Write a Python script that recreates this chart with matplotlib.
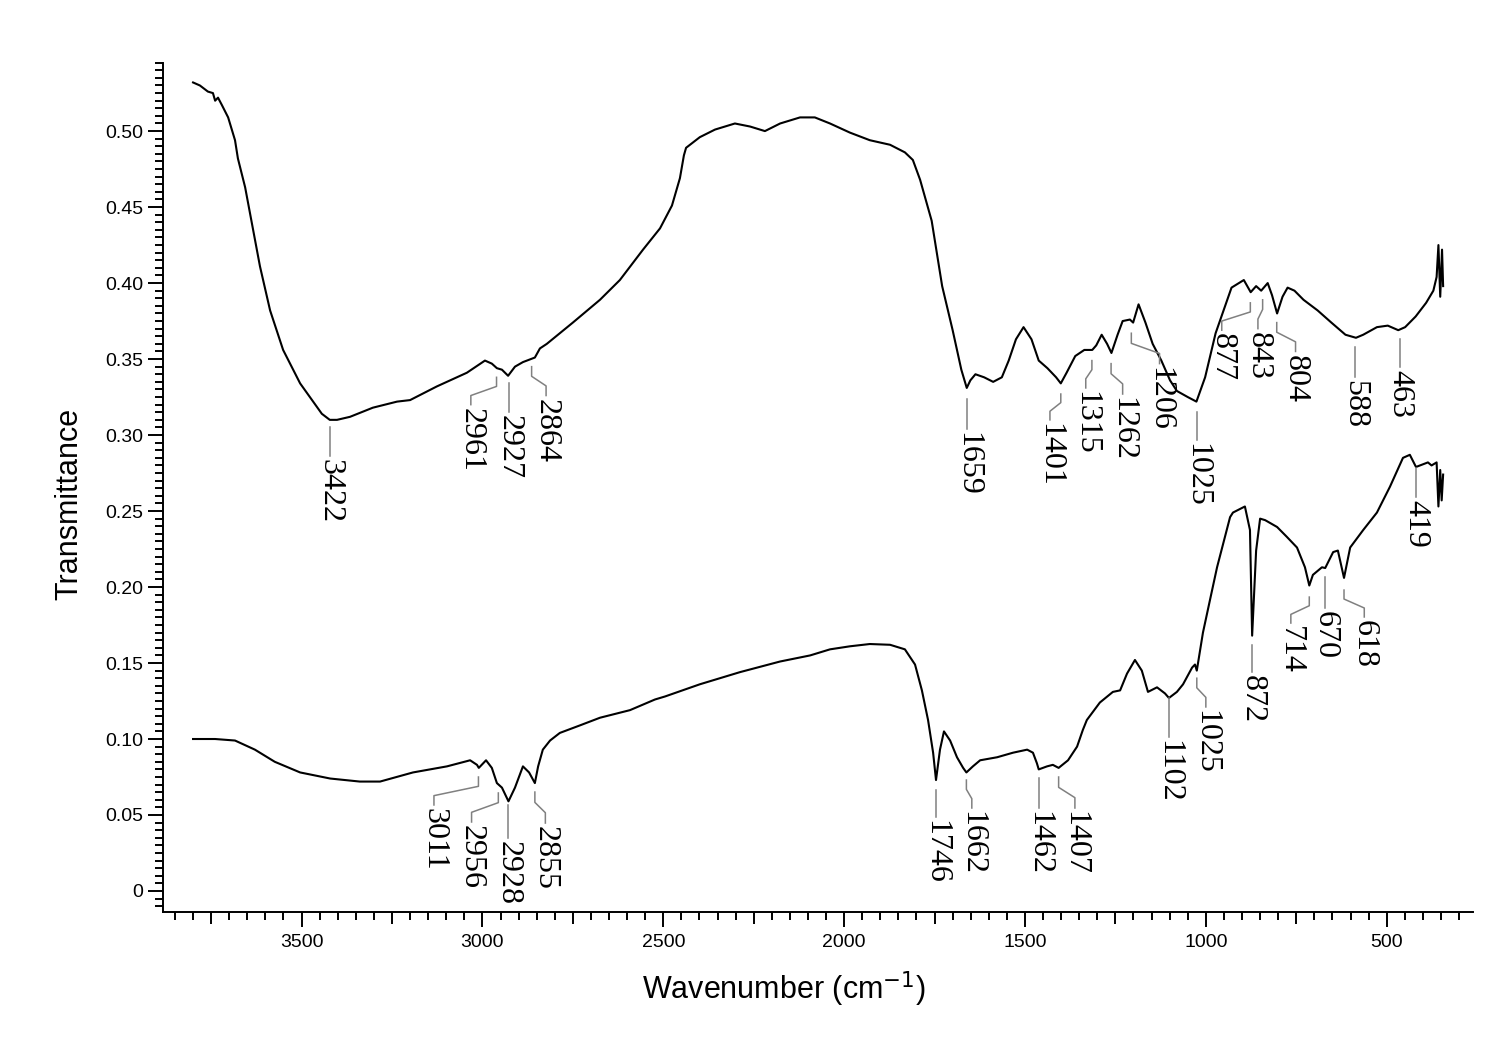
import matplotlib
matplotlib.use("Agg")
import matplotlib.pyplot as plt
from matplotlib.ticker import MultipleLocator, FuncFormatter

# upper spectrum (wavenumber, transmittance)
top_wn = [3800, 3781, 3759, 3745, 3739, 3731, 3720, 3703, 3684, 3676, 3656, 3637, 3615,
          3587, 3551, 3504, 3444, 3422, 3402, 3366, 3303, 3236, 3200, 3126, 3043, 2993,
          2974, 2960, 2946, 2929, 2910, 2888, 2855, 2841, 2822, 2750, 2675, 2620, 2556,
          2509, 2476, 2454, 2443, 2437, 2426, 2399, 2357, 2302, 2260, 2219, 2177, 2122,
          2081, 2039, 1984, 1929, 1873, 1832, 1810, 1790, 1758, 1729, 1700, 1676, 1661,
          1651, 1637, 1613, 1588, 1564, 1545, 1525, 1504, 1482, 1462, 1438, 1414, 1401,
          1385, 1361, 1336, 1314, 1303, 1288, 1273, 1261, 1244, 1230, 1210, 1201, 1186,
          1167, 1147, 1123, 1099, 1080, 1050, 1026, 1002, 973, 948, 929, 895, 876, 861,
          847, 829, 817, 803, 788, 774, 755, 730, 691, 653, 614, 585, 565, 527, 497, 468,
          449, 420, 391, 371, 362, 357, 352, 347, 344]
top_t = [0.532, 0.530, 0.526, 0.525, 0.520, 0.522, 0.517, 0.509, 0.494, 0.482, 0.463, 0.439,
         0.411, 0.382, 0.356, 0.334, 0.314, 0.310, 0.310, 0.312, 0.318, 0.322, 0.323, 0.332,
         0.341, 0.349, 0.347, 0.344, 0.343, 0.339, 0.345, 0.348, 0.351, 0.357, 0.360, 0.374,
         0.389, 0.402, 0.422, 0.436, 0.451, 0.469, 0.484, 0.489, 0.491, 0.496, 0.501, 0.505,
         0.503, 0.500, 0.505, 0.509, 0.509, 0.505, 0.499, 0.494, 0.491, 0.486, 0.481, 0.468,
         0.441, 0.398, 0.369, 0.343, 0.331, 0.336, 0.340, 0.338, 0.335, 0.338, 0.349, 0.363,
         0.371, 0.363, 0.349, 0.344, 0.338, 0.334, 0.341, 0.352, 0.356, 0.356, 0.359, 0.366,
         0.360, 0.354, 0.366, 0.375, 0.376, 0.374, 0.386, 0.374, 0.360, 0.349, 0.336, 0.329,
         0.325, 0.322, 0.338, 0.367, 0.384, 0.397, 0.402, 0.394, 0.398, 0.395, 0.400, 0.392,
         0.380, 0.391, 0.397, 0.395, 0.389, 0.382, 0.374, 0.366, 0.364, 0.366, 0.371, 0.372,
         0.369, 0.371, 0.378, 0.387, 0.395, 0.404, 0.425, 0.391, 0.422, 0.398]

# lower spectrum
bot_wn = [3800, 3739, 3684, 3629, 3574, 3504, 3421, 3339, 3283, 3192, 3098, 3034, 3015,
          3010, 2990, 2974, 2960, 2946, 2928, 2910, 2888, 2871, 2855, 2846, 2833, 2813,
          2786, 2730, 2675, 2592, 2523, 2495, 2399, 2288, 2177, 2094, 2039, 1984, 1929,
          1873, 1832, 1804, 1785, 1768, 1754, 1746, 1735, 1724, 1707, 1688, 1671, 1662,
          1644, 1624, 1577, 1533, 1494, 1478, 1467, 1462, 1439, 1423, 1407, 1381, 1356,
          1340, 1329, 1293, 1257, 1237, 1218, 1196, 1177, 1160, 1135, 1113, 1102, 1080,
          1063, 1038, 1030, 1025, 1008, 989, 969, 933, 925, 892, 878, 872, 861, 850, 836,
          803, 776, 748, 726, 714, 704, 679, 670, 648, 635, 618, 601, 565, 527, 491, 455,
          436, 419, 386, 376, 362, 357, 352, 348, 344]
bot_t = [0.100, 0.100, 0.099, 0.093, 0.085, 0.078, 0.074, 0.072, 0.072, 0.078, 0.082, 0.086,
         0.083, 0.081, 0.086, 0.081, 0.071, 0.068, 0.059, 0.068, 0.082, 0.078, 0.071, 0.082,
         0.093, 0.099, 0.104, 0.109, 0.114, 0.119, 0.126, 0.128, 0.136, 0.144, 0.151, 0.155,
         0.159, 0.161, 0.1625, 0.162, 0.159, 0.149, 0.132, 0.1125, 0.091, 0.073, 0.093, 0.105,
         0.099, 0.088, 0.081, 0.078, 0.082, 0.086, 0.088, 0.091, 0.093, 0.091, 0.084, 0.080,
         0.082, 0.083, 0.081, 0.086, 0.095, 0.106, 0.1125, 0.124, 0.131, 0.132, 0.143, 0.152,
         0.145, 0.131, 0.134, 0.130, 0.127, 0.131, 0.136, 0.147, 0.149, 0.145, 0.170, 0.191,
         0.213, 0.246, 0.249, 0.253, 0.2375, 0.168, 0.224, 0.245, 0.244, 0.2395, 0.233, 0.226,
         0.213, 0.201, 0.208, 0.213, 0.2125, 0.223, 0.224, 0.206, 0.226, 0.2375, 0.249, 0.266,
         0.285, 0.287, 0.279, 0.282, 0.280, 0.282, 0.253, 0.277, 0.257, 0.274]

# peak labels: text, where the label sits, leader top / bottom
top_labels = ['3422', '2961', '2927', '2864', '1659', '1401', '1315', '1262', '1206',
              '1025', '877', '843', '804', '588', '463']
top_text_x = [3422, 3032, 2927, 2824, 1659, 1431, 1332, 1230, 1128, 1025, 956, 856, 752, 588, 463]
top_y0 = [0.305, 0.338, 0.334, 0.345, 0.324, 0.327, 0.349, 0.347, 0.367, 0.315, 0.387,
          0.389, 0.374, 0.358, 0.363]
top_y1 = [0.286, 0.320, 0.315, 0.326, 0.304, 0.310, 0.331, 0.327, 0.347, 0.297, 0.369,
          0.370, 0.355, 0.338, 0.345]

bot_labels = ['3011', '2956', '2928', '2855', '1746', '1662', '1462', '1407', '1102',
              '1025', '872', '714', '670', '618', '419']
bot_text_x = [3134, 3030, 2928, 2826, 1746, 1647, 1462, 1362, 1102, 1000, 872, 765, 668, 562, 419]
bot_y0 = [0.075, 0.0645, 0.0566, 0.0651, 0.0664, 0.073, 0.0743, 0.075, 0.127, 0.140,
          0.1618, 0.1934, 0.2066, 0.198, 0.2783]
bot_y1 = [0.0566, 0.0454, 0.0349, 0.0447, 0.0487, 0.0546, 0.0546, 0.0546, 0.1013, 0.1211,
          0.1441, 0.1763, 0.1862, 0.1803, 0.2592]


def leader(ax, label, xt, y0, y1):
    x0 = float(label)
    ya = y0 - (y0 - y1) / 3
    yb = y0 - 2 * (y0 - y1) / 3
    if abs(xt - x0) < 3:
        ax.plot([x0, x0], [y0, y1], color='#808080', lw=1.1)
        xt = x0
    else:
        ax.plot([x0, x0, xt, xt], [y0, ya, yb, y1], color='#808080', lw=1.1)
    ax.text(xt, y1 - 0.002, label, rotation=270, ha='center', va='top',
            fontfamily='Liberation Serif', fontsize=23)


fig = plt.figure(figsize=(15.09, 10.45), dpi=100)
ax = fig.add_axes([0.1078, 0.1276, 0.8682, 0.8124])

ax.plot(top_wn, top_t, color='black', lw=1.5)
ax.plot(bot_wn, bot_t, color='black', lw=1.5)

for lab, xt, y0, y1 in zip(top_labels, top_text_x, top_y0, top_y1):
    leader(ax, lab, xt, y0, y1)
for lab, xt, y0, y1 in zip(bot_labels, bot_text_x, bot_y0, bot_y1):
    leader(ax, lab, xt, y0, y1)

ax.set_xlim(3884, 262)
ax.set_ylim(-0.0136, 0.545)

ax.spines['top'].set_visible(False)
ax.spines['right'].set_visible(False)
ax.spines['left'].set_linewidth(1.4)
ax.spines['bottom'].set_linewidth(1.4)

ax.xaxis.set_major_locator(MultipleLocator(250))
ax.xaxis.set_minor_locator(MultipleLocator(50))
ax.xaxis.set_major_formatter(FuncFormatter(lambda v, p: '%d' % v if v % 500 == 0 else ''))
ax.yaxis.set_major_locator(MultipleLocator(0.05))
ax.yaxis.set_minor_locator(MultipleLocator(0.005))
ax.yaxis.set_major_formatter(FuncFormatter(lambda v, p: '0' if abs(v) < 1e-9 else '%.2f' % v))

ax.tick_params(which='major', direction='out', length=11, width=1.4, labelsize=14,
               labelfontfamily='Liberation Sans')
ax.tick_params(which='minor', direction='out', length=6, width=1.4)
ax.tick_params(axis='x', which='major', pad=5)
ax.tick_params(axis='y', which='major', pad=3)

locs = ax.xaxis.get_majorticklocs()
for loc, tick in zip(locs, ax.xaxis.get_major_ticks(len(locs))):
    if loc % 500:
        tick.tick1line.set_markersize(8.5)

ax.set_xlabel('Wavenumber (cm$^{-1}$)', fontsize=22, fontfamily='Liberation Sans')
ax.set_ylabel('Transmittance', fontsize=22, fontfamily='Liberation Sans')
ax.xaxis.set_label_coords(0.474, -0.068)
ax.yaxis.set_label_coords(-0.060, 0.48)

fig.savefig('out.png', dpi=100, facecolor='white')
